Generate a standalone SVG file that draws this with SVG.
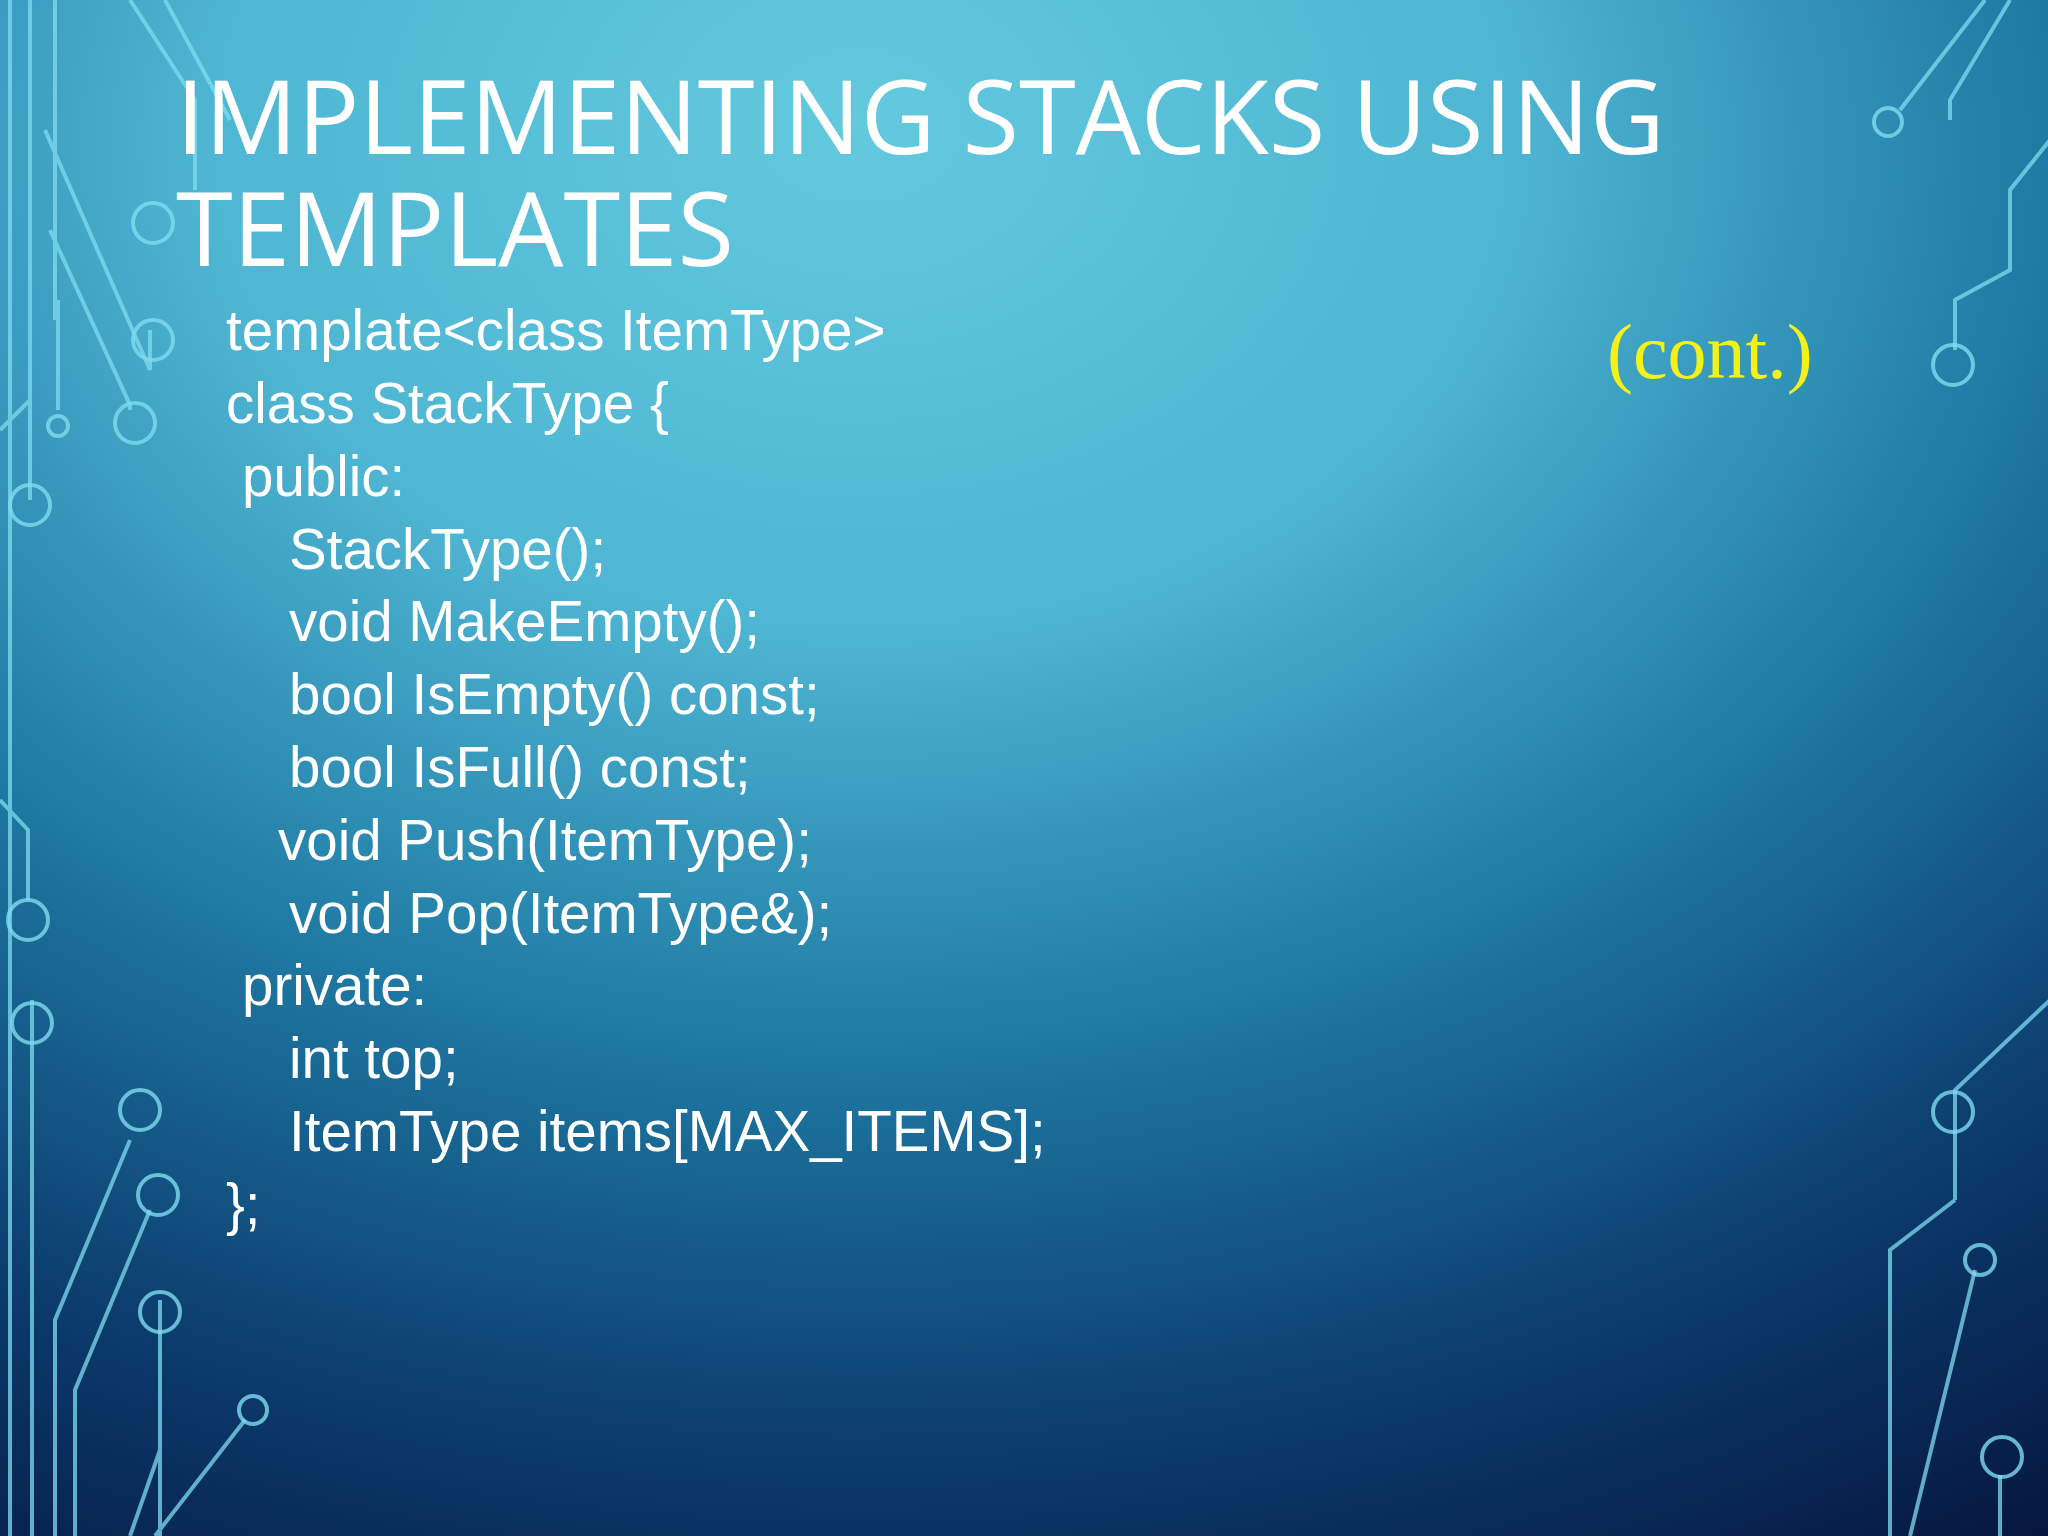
<svg xmlns="http://www.w3.org/2000/svg" width="2048" height="1536" viewBox="0 0 2048 1536">
<defs>
<radialGradient id="bg" cx="0.42" cy="0.12" r="1.05" fx="0.42" fy="0.08">
<stop offset="0" stop-color="#62c9de"/>
<stop offset="0.3" stop-color="#4fb6d3"/>
<stop offset="0.55" stop-color="#1f7aa4"/>
<stop offset="0.8" stop-color="#0b3a6c"/>
<stop offset="1" stop-color="#06173f"/>
</radialGradient>
<style>
.c{fill:none;stroke:#7fdcef;stroke-width:4;opacity:0.75}
.t{font-family:"Open Sans","DejaVu Sans",sans-serif;fill:#fff;font-size:103px}
.k{font-family:"Liberation Sans",Arial,sans-serif;fill:#fff;font-size:56.5px}
</style>
</defs>
<rect width="2048" height="1536" fill="url(#bg)"/>
<g id="circuits">
<path class="c" d="M30 0V500M55 0V320M10 0V1536M130 0L195 100V190M165 0L230 120M45 130L150 370V330M50 230L130 405V410M58 300V410M0 430L30 400M0 800L28 830V900M32 1000V1536M55 1536V1320L130 1140M75 1536V1390L150 1210M160 1300V1536M130 1536L160 1450M155 1536L245 1420M1985 0L1900 110M2010 0L1950 100V120M2050 140L2010 190V270L1955 300V350M2050 1000L1955 1090V1200M1890 1536V1250L1955 1200M1910 1536L1975 1270M2000 1475V1536"/>
<g fill="none" stroke="#7fdcef" stroke-width="4" opacity="0.8">
<circle cx="153" cy="223" r="20"/><circle cx="153" cy="340" r="20"/><circle cx="135" cy="423" r="20"/><circle cx="58" cy="426" r="10"/><circle cx="30" cy="505" r="20"/>
<circle cx="28" cy="920" r="20"/><circle cx="32" cy="1023" r="20"/><circle cx="140" cy="1110" r="20"/><circle cx="158" cy="1195" r="20"/><circle cx="160" cy="1312" r="20"/><circle cx="253" cy="1410" r="14"/>
<circle cx="1888" cy="122" r="14"/><circle cx="1953" cy="365" r="20"/><circle cx="1953" cy="1112" r="20"/><circle cx="1980" cy="1260" r="15"/><circle cx="2002" cy="1457" r="20"/>
</g>
</g>
<g id="title">
<text class="t" x="176" y="154">IMPLEMENTING STACKS USING</text>
<text class="t" x="176" y="266">TEMPLATES</text>
</g>
<g id="cont"><text x="1607" y="378" font-family="Liberation Serif,serif" font-size="78" fill="#f2f21a">(cont.)</text></g>
<g id="code">
<text class="k" x="226" y="350">template&lt;class ItemType&gt;</text>
<text class="k" x="226" y="423">class StackType {</text>
<text class="k" x="242" y="496">public:</text>
<text class="k" x="289" y="569">StackType();</text>
<text class="k" x="289" y="641">void MakeEmpty();</text>
<text class="k" x="289" y="714">bool IsEmpty() const;</text>
<text class="k" x="289" y="787">bool IsFull() const;</text>
<text class="k" x="278" y="860">void Push(ItemType);</text>
<text class="k" x="289" y="933">void Pop(ItemType&amp;);</text>
<text class="k" x="242" y="1005">private:</text>
<text class="k" x="289" y="1078">int top;</text>
<text class="k" x="289" y="1151">ItemType items[MAX_ITEMS];</text>
<text class="k" x="226" y="1224">};</text>
</g>
</svg>
